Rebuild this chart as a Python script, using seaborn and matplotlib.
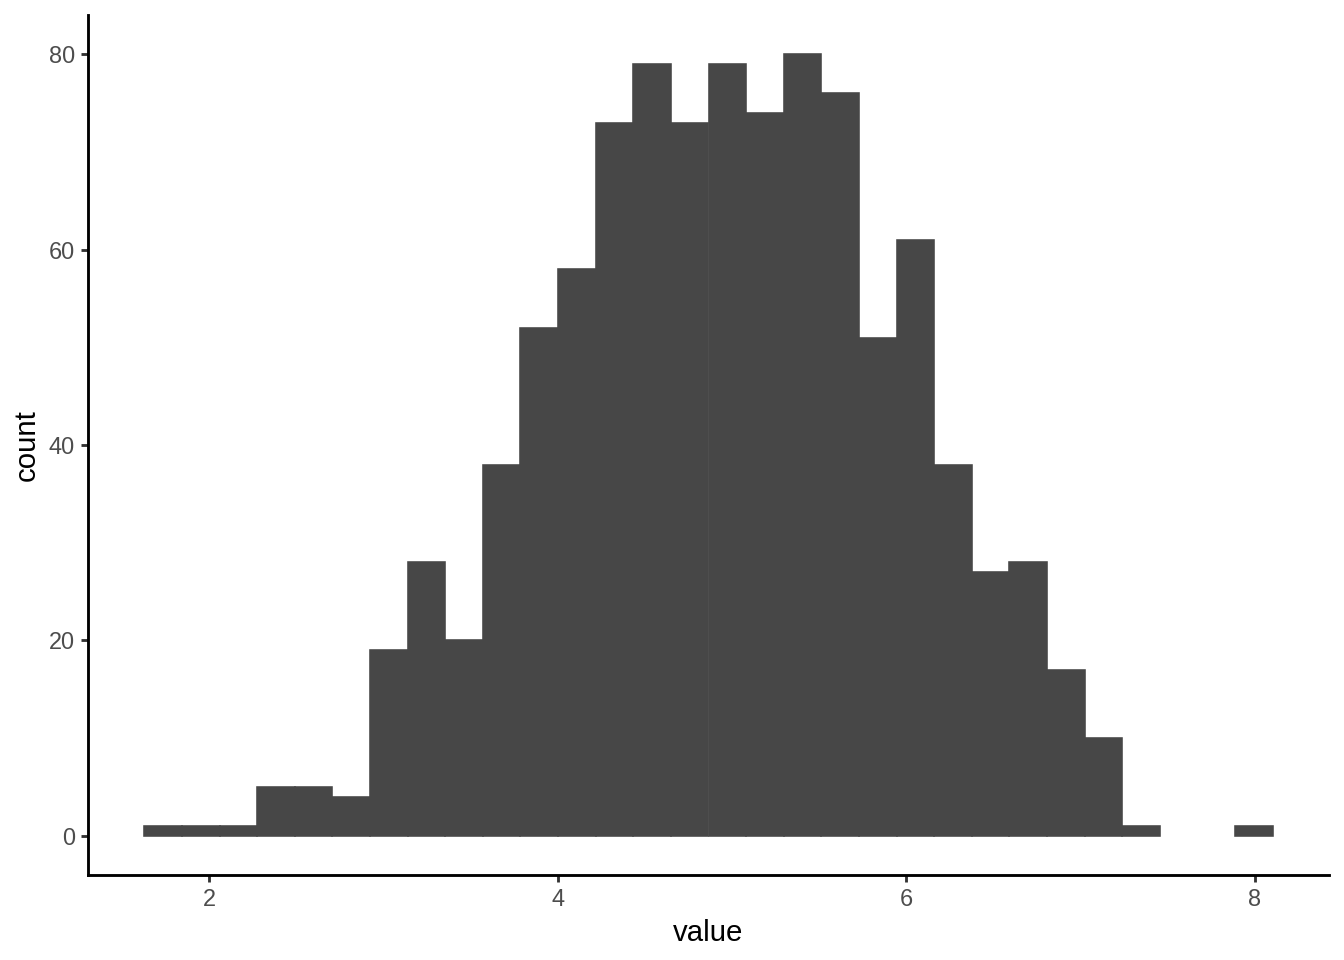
import numpy as np
import pandas as pd
import seaborn as sns
import matplotlib
matplotlib.use("Agg")
import matplotlib.pyplot as plt

# histogram: 30 bins, first edge ~1.627, width ~0.2158
bin_start = 1.627
bin_width = 0.2158
counts = [1, 1, 1, 5, 5, 4, 19, 28, 20, 38, 52, 58, 73, 79, 73,
          79, 74, 80, 76, 51, 61, 38, 27, 28, 17, 10, 1, 0, 0, 1]
x_ticks = [2, 4, 6, 8]
y_ticks = [0, 20, 40, 60, 80]

edges = bin_start + bin_width * np.arange(len(counts) + 1)
df = pd.DataFrame({"value": (edges[:-1] + edges[1:]) / 2, "count": counts})

sns.set_theme(style="ticks")
plt.rcParams["font.family"] = ["Liberation Sans", "DejaVu Sans"]

fig = plt.figure(figsize=(7, 5), dpi=192)
ax = fig.add_axes([88 / 1344, 1 - 875 / 960, (1329 - 88) / 1344, (875 - 15) / 960])

# same-colour thin edge closes the seams between neighbouring bars
sns.histplot(data=df, x="value", weights="count", bins=edges.tolist(), ax=ax,
             color="#474747", alpha=1, edgecolor="#474747", linewidth=0.6)
for p in ax.patches:
    if p.get_height() == 0:
        p.set_visible(False)

ax.set_xlim(edges[0] - 0.05 * (edges[-1] - edges[0]), edges[-1] + 0.05 * (edges[-1] - edges[0]))
ax.set_ylim(-4, 84)
ax.set_xticks(x_ticks)
ax.set_yticks(y_ticks)
ax.set_xlabel("value", fontsize=11, color="black", labelpad=3)
ax.set_ylabel("count", fontsize=11, color="black", labelpad=3)
ax.tick_params(axis="both", labelsize=8.8, labelcolor="#4D4D4D", color="#333333",
               length=2.75, width=1.07, pad=2.2)
for side in ["top", "right"]:
    ax.spines[side].set_visible(False)
for side in ["left", "bottom"]:
    ax.spines[side].set_linewidth(1.07)
    ax.spines[side].set_color("black")

fig.savefig("out.png", dpi=192)
